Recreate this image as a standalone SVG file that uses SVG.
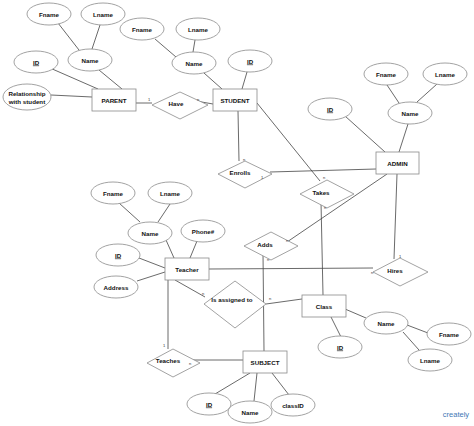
<svg xmlns="http://www.w3.org/2000/svg" width="474" height="426" viewBox="0 0 474 426">
<style>
.e{fill:#fff;stroke:#8a8a8a;stroke-width:0.8}
.r{fill:#fff;stroke:#8a8a8a;stroke-width:0.8}
.d{fill:#fff;stroke:#8a8a8a;stroke-width:0.8}
.t{font-family:"Liberation Sans",Arial,sans-serif;font-size:6.2px;font-weight:bold;fill:#111;text-anchor:middle;dominant-baseline:central}
.u{text-decoration:underline}
.c line{stroke:#444;stroke-width:0.8}
.m{font-family:"Liberation Sans",Arial,sans-serif;font-size:4px;fill:#333;text-anchor:middle}
</style>
<rect width="474" height="426" fill="#fff"/>
<g class="c" id="connectors">
<line x1="58" y1="23" x2="79" y2="50"/>
<line x1="100" y1="25" x2="92" y2="49"/>
<line x1="50" y1="68" x2="98" y2="89"/>
<line x1="99" y1="70" x2="122" y2="89"/>
<line x1="51" y1="95" x2="92" y2="97"/>
<line x1="136" y1="103" x2="152" y2="103"/>
<line x1="196" y1="101" x2="213" y2="104"/>
<line x1="155" y1="39" x2="176" y2="57"/>
<line x1="195" y1="40" x2="193" y2="52"/>
<line x1="204" y1="73" x2="222" y2="89"/>
<line x1="247" y1="72" x2="242" y2="89"/>
<line x1="238" y1="111" x2="239" y2="161"/>
<line x1="257" y1="103" x2="320" y2="181"/>
<line x1="270" y1="172" x2="376" y2="169"/>
<line x1="387" y1="85" x2="399" y2="103"/>
<line x1="437" y1="84" x2="417" y2="102"/>
<line x1="345" y1="116" x2="385" y2="152"/>
<line x1="408" y1="124" x2="399" y2="152"/>
<line x1="387" y1="174" x2="287" y2="242"/>
<line x1="397" y1="174" x2="394" y2="259"/>
<line x1="321" y1="202" x2="323" y2="295"/>
<line x1="263" y1="253" x2="264" y2="351"/>
<line x1="209" y1="269" x2="373" y2="268"/>
<line x1="119" y1="203" x2="140" y2="222"/>
<line x1="170" y1="204" x2="158" y2="222"/>
<line x1="166" y1="240" x2="174" y2="258"/>
<line x1="197" y1="241" x2="190" y2="258"/>
<line x1="139" y1="258" x2="165" y2="268"/>
<line x1="137" y1="281" x2="165" y2="272"/>
<line x1="175" y1="280" x2="205" y2="297"/>
<line x1="168" y1="280" x2="168" y2="349"/>
<line x1="266" y1="304" x2="302" y2="299"/>
<line x1="190" y1="360" x2="243" y2="360"/>
<line x1="250" y1="373" x2="215" y2="394"/>
<line x1="257" y1="373" x2="254" y2="401"/>
<line x1="272" y1="373" x2="289" y2="395"/>
<line x1="331" y1="317" x2="341" y2="337"/>
<line x1="345" y1="309" x2="366" y2="318"/>
<line x1="407" y1="325" x2="428" y2="333"/>
<line x1="403" y1="332" x2="419" y2="350"/>
</g>
<g id="PARENT"><rect class="r" x="92" y="89" width="44" height="22"/><text class="t" x="114" y="100">PARENT</text></g>
<g id="STUDENT"><rect class="r" x="213" y="89" width="44" height="22"/><text class="t" x="235" y="100">STUDENT</text></g>
<g id="ADMIN"><rect class="r" x="376" y="152" width="43" height="22"/><text class="t" x="397.5" y="163">ADMIN</text></g>
<g id="Teacher"><rect class="r" x="165" y="258" width="44" height="22"/><text class="t" x="187" y="269">Teacher</text></g>
<g id="Class"><rect class="r" x="302" y="295" width="44" height="22"/><text class="t" x="324" y="306">Class</text></g>
<g id="SUBJECT"><rect class="r" x="243" y="351" width="44" height="22"/><text class="t" x="265" y="362">SUBJECT</text></g>

<g id="Have"><polygon class="d" points="152,105 180,92 208,105 180,119"/><text class="t" x="176" y="103">Have</text></g>
<g id="Enrolls"><polygon class="d" points="218,174 245,161 272,174 245,188"/><text class="t" x="240" y="172">Enrolls</text></g>
<g id="Takes"><polygon class="d" points="300,194 327,180 354,194 327,208"/><text class="t" x="321" y="192">Takes</text></g>
<g id="Adds"><polygon class="d" points="244,246 271,232 298,246 271,260"/><text class="t" x="265" y="244">Adds</text></g>
<g id="Hires"><polygon class="d" points="373,272 400,258 428,272 400,286"/><text class="t" x="395" y="270">Hires</text></g>
<g id="IsAssignedTo"><polygon class="d" points="204,304 235,281 266,304 235,328"/><text class="t" x="232" y="299">Is assigned to</text></g>
<g id="Teaches"><polygon class="d" points="147,363 173,349 200,363 173,377"/><text class="t" x="168" y="360">Teaches</text></g>

<g id="parent-fname"><ellipse class="e" cx="49" cy="14" rx="22" ry="11"/><text class="t" x="49" y="14">Fname</text></g>
<g id="parent-lname"><ellipse class="e" cx="103" cy="14" rx="22" ry="11"/><text class="t" x="103" y="14">Lname</text></g>
<g id="parent-name"><ellipse class="e" cx="90" cy="60" rx="22" ry="11"/><text class="t" x="90" y="60">Name</text></g>
<g id="parent-id"><ellipse class="e" cx="36" cy="62" rx="22" ry="11"/><text class="t u" x="36" y="62">ID</text></g>
<g id="parent-rel"><ellipse class="e" cx="27" cy="97" rx="24" ry="13"/><text class="t" x="27" y="93">Relationship</text><text class="t" x="27" y="101">with student</text></g>

<g id="student-fname"><ellipse class="e" cx="142" cy="29" rx="22" ry="11"/><text class="t" x="142" y="29">Fname</text></g>
<g id="student-lname"><ellipse class="e" cx="198" cy="29" rx="22" ry="11"/><text class="t" x="198" y="29">Lname</text></g>
<g id="student-name"><ellipse class="e" cx="194" cy="63" rx="22" ry="11"/><text class="t" x="194" y="63">Name</text></g>
<g id="student-id"><ellipse class="e" cx="250" cy="61" rx="22" ry="11"/><text class="t u" x="250" y="61">ID</text></g>

<g id="admin-fname"><ellipse class="e" cx="386" cy="74" rx="22" ry="11"/><text class="t" x="386" y="74">Fname</text></g>
<g id="admin-lname"><ellipse class="e" cx="445" cy="74" rx="22" ry="11"/><text class="t" x="445" y="74">Lname</text></g>
<g id="admin-id"><ellipse class="e" cx="330" cy="109" rx="22" ry="11"/><text class="t u" x="330" y="109">ID</text></g>
<g id="admin-name"><ellipse class="e" cx="410" cy="113" rx="22" ry="11"/><text class="t" x="410" y="113">Name</text></g>

<g id="teacher-fname"><ellipse class="e" cx="113" cy="193" rx="22" ry="11"/><text class="t" x="113" y="193">Fname</text></g>
<g id="teacher-lname"><ellipse class="e" cx="170" cy="193" rx="22" ry="11"/><text class="t" x="170" y="193">Lname</text></g>
<g id="teacher-name"><ellipse class="e" cx="150" cy="233" rx="22" ry="11"/><text class="t" x="150" y="233">Name</text></g>
<g id="teacher-phone"><ellipse class="e" cx="203" cy="231" rx="22" ry="11"/><text class="t" x="203" y="231">Phone#</text></g>
<g id="teacher-id"><ellipse class="e" cx="118" cy="255" rx="22" ry="11"/><text class="t u" x="118" y="255">ID</text></g>
<g id="teacher-address"><ellipse class="e" cx="116" cy="287" rx="22" ry="11"/><text class="t" x="116" y="287">Address</text></g>

<g id="class-id"><ellipse class="e" cx="340" cy="347" rx="22" ry="11"/><text class="t u" x="340" y="347">ID</text></g>
<g id="class-name"><ellipse class="e" cx="386" cy="323" rx="22" ry="11"/><text class="t" x="386" y="323">Name</text></g>
<g id="class-fname"><ellipse class="e" cx="449" cy="334" rx="22" ry="11"/><text class="t" x="449" y="334">Fname</text></g>
<g id="class-lname"><ellipse class="e" cx="430" cy="360" rx="22" ry="11"/><text class="t" x="430" y="360">Lname</text></g>

<g id="subject-id"><ellipse class="e" cx="209" cy="404" rx="22" ry="11"/><text class="t u" x="209" y="404">ID</text></g>
<g id="subject-name"><ellipse class="e" cx="250" cy="412" rx="22" ry="11"/><text class="t" x="250" y="412">Name</text></g>
<g id="subject-classid"><ellipse class="e" cx="293" cy="405" rx="22" ry="11"/><text class="t" x="293" y="405">classID</text></g>

<g id="cardinalities">
<text class="m" x="149" y="101">1</text>
<text class="m" x="198" y="101">n</text>
<text class="m" x="244" y="161">n</text>
<text class="m" x="262" y="179">1</text>
<text class="m" x="324" y="179">n</text>
<text class="m" x="325" y="209">n</text>
<text class="m" x="287" y="242">n</text>
<text class="m" x="268" y="261">n</text>
<text class="m" x="400" y="258">1</text>
<text class="m" x="372" y="274">n</text>
<text class="m" x="203" y="295">n</text>
<text class="m" x="270" y="300">n</text>
<text class="m" x="164" y="347">1</text>
<text class="m" x="190" y="365">n</text>
</g>
<text x="456" y="417" font-family="Liberation Sans,Arial,sans-serif" font-size="7.5" fill="#3f78b5" text-anchor="middle">creately</text>
</svg>
